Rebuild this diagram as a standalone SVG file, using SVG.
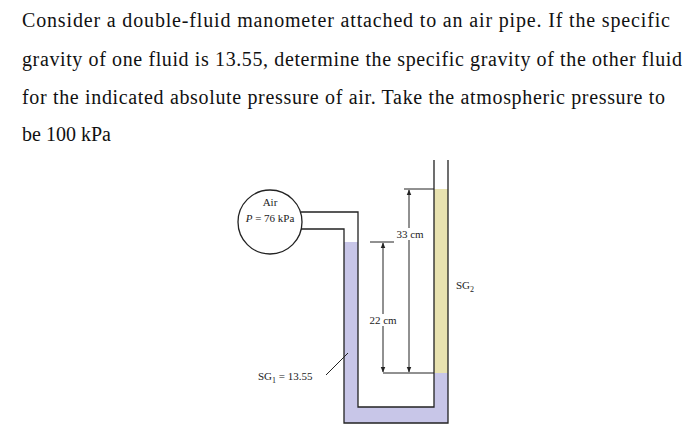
<svg xmlns="http://www.w3.org/2000/svg" width="700" height="444" viewBox="0 0 700 444">
<style>
.t{font-family:"Liberation Serif",serif;font-size:20px;fill:#111}
.s{font-family:"Liberation Serif",serif;font-size:11px;fill:#222}
.l{stroke:#222;stroke-width:1.3;fill:none}
.d{stroke:#222;stroke-width:1;fill:none}
</style>
<defs><marker id="a" viewBox="0 0 10 10" refX="9" refY="5" markerWidth="6" markerHeight="6" orient="auto-start-reverse"><path d="M0,1 L10,5 L0,9z" fill="#222"/></marker></defs>
<rect width="700" height="444" fill="#fff"/>
<text class="t" x="22" y="27" textLength="648">Consider a double-fluid manometer attached to an air pipe. If the specific</text>
<text class="t" x="22" y="66" textLength="660">gravity of one fluid is 13.55, determine the specific gravity of the other fluid</text>
<text class="t" x="22" y="104" textLength="643">for the indicated absolute pressure of air. Take the atmospheric pressure to</text>
<text class="t" x="22" y="141">be 100 kPa</text>
<g id="fluids">
<path d="M344,242 H358 V407 H434 V373 H448 V423 H344 Z" fill="#c8c6e8"/>
<rect x="434" y="189" width="14" height="184" fill="#e8e2b0"/>
</g>
<g id="pipe">
<circle cx="270" cy="222" r="32" fill="#fff" class="l"/>
<path class="l" d="M301,212 H358 V407 H434 V160"/>
<path class="l" d="M301,229 H344 V423 H448 V160"/>
<text class="s" x="270" y="206" text-anchor="middle">Air</text>
<text class="s" x="270" y="222" text-anchor="middle"><tspan font-style="italic">P</tspan> = 76 kPa</text>
</g>
<g id="connectors">
<path class="d" d="M404,189 H434 M370,242 H394 M383,373 H434"/>
<line class="d" x1="409" y1="190" x2="409" y2="372" marker-start="url(#a)" marker-end="url(#a)"/>
<line class="d" x1="383" y1="243" x2="383" y2="372" marker-start="url(#a)" marker-end="url(#a)"/>
<path class="d" d="M326,375 L348,353"/>
</g>
<g id="labels">
<rect x="395" y="228" width="30" height="12" fill="#fff"/>
<text class="s" x="410" y="238" text-anchor="middle">33 cm</text>
<rect x="368" y="314" width="30" height="12" fill="#fff"/>
<text class="s" x="383" y="324" text-anchor="middle">22 cm</text>
<text class="s" x="456" y="289">SG<tspan font-size="8" dy="3">2</tspan></text>
<text class="s" x="258" y="380">SG<tspan font-size="8" dy="3">1</tspan><tspan dy="-3"> = 13.55</tspan></text>
</g>
</svg>
